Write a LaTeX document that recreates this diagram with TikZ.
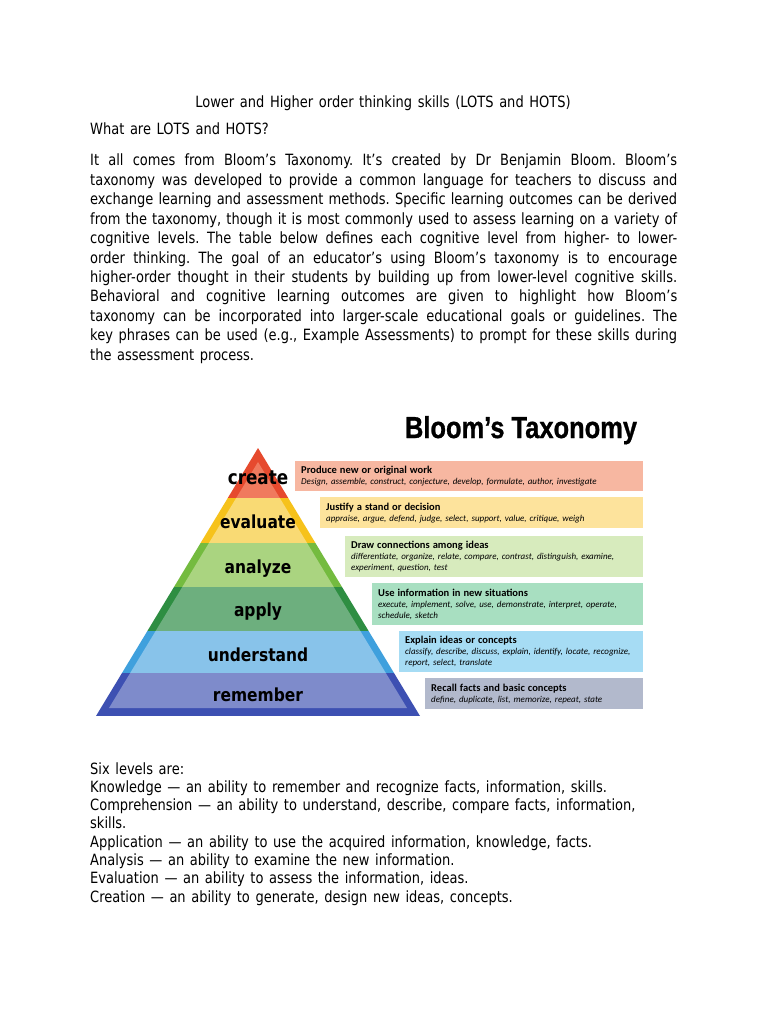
\documentclass[tikz,border=0pt]{standalone}
\usepackage{fontspec}
\setmainfont{DejaVu Sans}[FakeStretch=0.84]
\newfontfamily\levelfont{DejaVu Sans}[FakeStretch=0.86]
\newfontfamily\headfont{Liberation Sans}[FakeBold=1]
\newfontfamily\boxfont{Carlito}
\newcommand\bodyfont{\fontsize{15.5}{18}\selectfont\spaceskip=5.6pt plus 4pt minus 1pt\relax}
\newcommand\descfont{\boxfont\fontsize{9}{10.5}\selectfont\spaceskip=3.2pt plus 1pt minus 0.5pt\relax}
\tikzset{
  bodyline/.style={anchor=base west,inner sep=0pt,font=\bodyfont},
  levellabel/.style={anchor=base,inner sep=0pt,font=\levelfont\bfseries\fontsize{18}{20}\selectfont},
  descbox/.style={anchor=north west,inner xsep=6pt,inner ysep=1pt,align=left,font=\descfont},
}
\newcommand\boxhead[1]{{\fontsize{10.5}{11}\selectfont\bfseries #1}\\[0.5pt]}
\newcommand\justline[1]{\makebox[587pt][s]{#1}}
\frenchspacing
\begin{document}
\begin{tikzpicture}[x=1pt,y=-1pt]
\definecolor{createedge}{HTML}{E64A2E}
\definecolor{createfill}{HTML}{F07A5E}
\definecolor{evaluateedge}{HTML}{F6C21B}
\definecolor{evaluatefill}{HTML}{F9DA74}
\definecolor{analyzeedge}{HTML}{74BB3F}
\definecolor{analyzefill}{HTML}{AAD480}
\definecolor{applyedge}{HTML}{2E8E42}
\definecolor{applyfill}{HTML}{6DAF7E}
\definecolor{understandedge}{HTML}{3FA0DD}
\definecolor{understandfill}{HTML}{88C3EA}
\definecolor{rememberedge}{HTML}{3D50B2}
\definecolor{rememberfill}{HTML}{7E8BCB}
\definecolor{createbox}{HTML}{F7B7A1}
\definecolor{evaluatebox}{HTML}{FDE39C}
\definecolor{analyzebox}{HTML}{D7EBBD}
\definecolor{applybox}{HTML}{A8DFC1}
\definecolor{understandbox}{HTML}{A6DCF4}
\definecolor{rememberbox}{HTML}{B2B9CC}
\useasboundingbox[fill=white] (0,0) rectangle (768,1024);
\node[bodyline,anchor=base] (title) at (383,108) {Lower and Higher order thinking skills (LOTS and HOTS)};
\node[bodyline] (question) at (90,135) {What are LOTS and HOTS?};
\node[bodyline] (para1) at (90,166) {\justline{It all comes from Bloom’s Taxonomy. It’s created by Dr Benjamin Bloom. Bloom’s}};
\node[bodyline] (para2) at (90,185.4) {\justline{taxonomy was developed to provide a common language for teachers to discuss and}};
\node[bodyline] (para3) at (90,204.8) {\justline{exchange learning and assessment methods. Specific learning outcomes can be derived}};
\node[bodyline] (para4) at (90,224.2) {\justline{from the taxonomy, though it is most commonly used to assess learning on a variety of}};
\node[bodyline] (para5) at (90,243.6) {\justline{cognitive levels. The table below defines each cognitive level from higher- to lower-}};
\node[bodyline] (para6) at (90,263) {\justline{order thinking. The goal of an educator’s using Bloom’s taxonomy is to encourage}};
\node[bodyline] (para7) at (90,282.4) {\justline{higher-order thought in their students by building up from lower-level cognitive skills.}};
\node[bodyline] (para8) at (90,301.8) {\justline{Behavioral and cognitive learning outcomes are given to highlight how Bloom’s}};
\node[bodyline] (para9) at (90,321.2) {\justline{taxonomy can be incorporated into larger-scale educational goals or guidelines. The}};
\node[bodyline] (para10) at (90,340.6) {\justline{key phrases can be used (e.g., Example Assessments) to prompt for these skills during}};
\node[bodyline] (para11) at (90,360) {the assessment process.};
\node[anchor=base,inner sep=0pt] (heading) at (521,438) {\resizebox{232pt}{22pt}{\headfont\bfseries Bloom’s Taxonomy}};
\begin{scope}
\clip (258,448) -- (420,716) -- (96,716) -- cycle;
\foreach \ya/\yb/\band in {448/498/create,498/543/evaluate,543/587/analyze,587/631/apply,631/673/understand,673/716/remember}
  \fill[\band edge] (90,\ya) rectangle (430,\yb);
\end{scope}
\begin{scope}
\clip (258,462) -- (407,708) -- (109,708) -- cycle;
\foreach \ya/\yb/\band in {448/498/create,498/543/evaluate,543/587/analyze,587/631/apply,631/673/understand,673/716/remember}
  \fill[\band fill] (90,\ya) rectangle (430,\yb);
\end{scope}
\node[levellabel,font=\levelfont\bfseries\fontsize{19.5}{21}\selectfont] (create) at (258,484) {create};
\node[levellabel] (evaluate) at (258,528) {evaluate};
\node[levellabel] (analyze) at (258,573) {analyze};
\node[levellabel] (apply) at (258,616) {apply};
\node[levellabel] (understand) at (258,661) {understand};
\node[levellabel] (remember) at (258,701) {remember};
\node[descbox,fill=createbox,text width=336pt,minimum height=30pt] (createtext) at (295,461) {\boxhead{Produce new or original work}\itshape Design, assemble, construct, conjecture, develop, formulate, author, investigate};
\node[descbox,fill=evaluatebox,text width=311pt,minimum height=31pt] (evaluatetext) at (320,497) {\boxhead{Justify a stand or decision}\itshape appraise, argue, defend, judge, select, support, value, critique, weigh};
\node[descbox,fill=analyzebox,text width=286pt,minimum height=41pt] (analyzetext) at (345,536) {\boxhead{Draw connections among ideas}\itshape differentiate, organize, relate, compare, contrast, distinguish, examine,\\ experiment, question, test};
\node[descbox,fill=applybox,text width=259pt,minimum height=42pt] (applytext) at (372,583) {\boxhead{Use information in new situations}\itshape execute, implement, solve, use, demonstrate, interpret, operate,\\ schedule, sketch};
\node[descbox,fill=understandbox,text width=232pt,minimum height=41pt] (understandtext) at (399,631) {\boxhead{Explain ideas or concepts}\itshape classify, describe, discuss, explain, identify, locate, recognize,\\ report, select, translate};
\node[descbox,fill=rememberbox,text width=206pt,minimum height=31pt] (remembertext) at (425,678) {\boxhead{Recall facts and basic concepts}\itshape define, duplicate, list, memorize, repeat, state};
\node[bodyline] (sixlevels) at (90,774) {Six levels are:};
\node[bodyline] (knowledge) at (90,792.3) {Knowledge — an ability to remember and recognize facts, information, skills.};
\node[bodyline] (comprehension) at (90,810.6) {Comprehension — an ability to understand, describe, compare facts, information,};
\node[bodyline] (comprehension2) at (90,828.9) {skills.};
\node[bodyline] (application) at (90,847.2) {Application — an ability to use the acquired information, knowledge, facts.};
\node[bodyline] (analysis) at (90,865.5) {Analysis — an ability to examine the new information.};
\node[bodyline] (evaluation) at (90,883.8) {Evaluation — an ability to assess the information, ideas.};
\node[bodyline] (creation) at (90,902.1) {Creation — an ability to generate, design new ideas, concepts.};
\end{tikzpicture}
\end{document}
